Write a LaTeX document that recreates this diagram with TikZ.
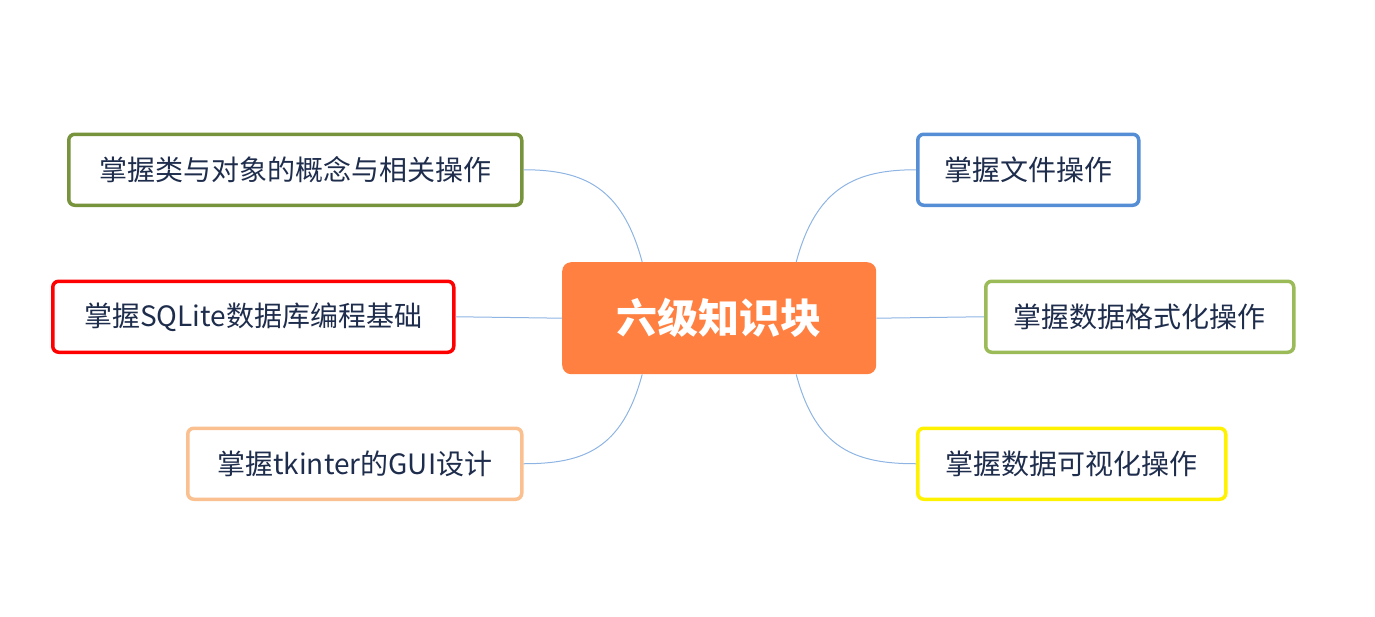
\documentclass[tikz,border=0pt]{standalone}
\usepackage{fontspec}
\setmainfont{Noto Sans CJK SC}
\usetikzlibrary{calc}
\definecolor{txt}{HTML}{1F2D4D}
\definecolor{lnk}{HTML}{8EB4E3}
\begin{document}
\begin{tikzpicture}[x=1pt,y=-1pt,
  leaf/.style={draw,line width=3.5pt,rounded corners=6pt,fill=white,text=txt,font=\fontsize{28}{32}\selectfont,minimum height=71pt,inner sep=0pt,anchor=north west},
  link/.style={draw=lnk,line width=1pt}]
\useasboundingbox (0,0) rectangle (1375,616);
\node[fill={rgb,255:red,255;green,128;blue,64},rounded corners=9pt,minimum width=314pt,minimum height=112pt,text=white,font=\bfseries\fontsize{41}{45}\selectfont,anchor=north west] (c) at (562,262) {六级知识块};
\node[leaf,draw={rgb,255:red,119;green,147;blue,60},minimum width=453pt] (a1) at (67,132.5) {掌握类与对象的概念与相关操作};
\node[leaf,draw=red,minimum width=401pt] (a2) at (51,279.5) {掌握SQLite数据库编程基础};
\node[leaf,draw={rgb,255:red,250;green,192;blue,144},minimum width=334pt] (a3) at (186,426.5) {掌握tkinter的GUI设计};
\node[leaf,draw={rgb,255:red,85;green,142;blue,213},minimum width=221pt] (b1) at (916,132.5) {掌握文件操作};
\node[leaf,draw={rgb,255:red,155;green,187;blue,89},minimum width=308pt] (b2) at (984,279.5) {掌握数据格式化操作};
\node[leaf,draw=yellow,minimum width=308pt] (b3) at (916,426.5) {掌握数据可视化操作};
\coordinate (tl) at ($(c.north west)!0.255!(c.north east)$);
\coordinate (tr) at ($(c.north west)!0.745!(c.north east)$);
\coordinate (bl) at ($(c.south west)!0.255!(c.south east)$);
\coordinate (br) at ($(c.south west)!0.745!(c.south east)$);
\draw[link] (tl) .. controls ($(tl)+(-20,-75)$) and ($(a1.east)+(60,0)$) .. (a1.east);
\draw[link] (tr) .. controls ($(tr)+(20,-75)$) and ($(b1.west)+(-60,0)$) .. (b1.west);
\draw[link] (bl) .. controls ($(bl)+(-20,75)$) and ($(a3.east)+(60,0)$) .. (a3.east);
\draw[link] (br) .. controls ($(br)+(20,75)$) and ($(b3.west)+(-60,0)$) .. (b3.west);
\draw[link] (c.west) -- (a2.east);
\draw[link] (c.east) -- (b2.west);
\end{tikzpicture}
\end{document}
